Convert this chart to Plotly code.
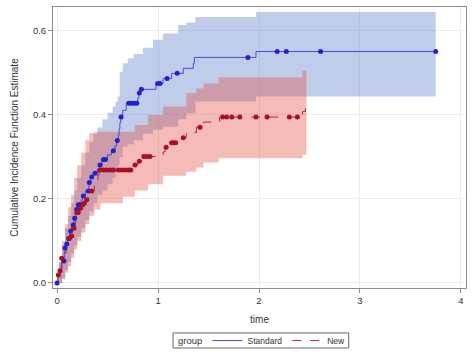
import plotly.graph_objects as go

# ---- Standard group: step curve ----
std_t = [0, 0.01, 0.03, 0.05, 0.072, 0.077, 0.088, 0.105, 0.125, 0.145, 0.168, 0.185, 0.19,
         0.205, 0.24, 0.25, 0.28, 0.315, 0.318, 0.335, 0.36, 0.40, 0.42, 0.445, 0.50, 0.54,
         0.575, 0.59, 0.605, 0.615, 0.622, 0.63, 0.65, 0.685, 0.80, 0.81, 0.825, 0.98, 1.05,
         1.135, 1.25, 1.35, 1.36, 1.97, 3.75]
std_v = [0, 0.017, 0.035, 0.052, 0.068, 0.083, 0.093, 0.106, 0.124, 0.138, 0.154, 0.165, 0.175,
         0.186, 0.197, 0.207, 0.219, 0.229, 0.239, 0.252, 0.261, 0.271, 0.281, 0.294, 0.305, 0.315,
         0.327, 0.339, 0.352, 0.367, 0.381, 0.395, 0.411, 0.428, 0.44, 0.452, 0.461, 0.475, 0.487,
         0.499, 0.511, 0.523, 0.537, 0.551, 0.551]
std_cens_t = [0.0, 0.069, 0.079, 0.096, 0.115, 0.135, 0.16, 0.175, 0.195, 0.211, 0.228, 0.26,
              0.31, 0.32, 0.343, 0.376, 0.426, 0.46, 0.48, 0.557, 0.597, 0.634, 0.71, 0.735,
              0.76, 0.79, 0.815, 0.835, 0.997, 1.02, 1.09, 1.19, 1.89, 2.18, 2.27, 2.61, 3.75]
std_cens_v = [0.0, 0.052, 0.083, 0.093, 0.106, 0.124, 0.138, 0.154, 0.175, 0.186, 0.186, 0.207,
              0.219, 0.239, 0.252, 0.261, 0.281, 0.294, 0.294, 0.315, 0.339, 0.395, 0.428, 0.428,
              0.428, 0.428, 0.452, 0.461, 0.475, 0.475, 0.487, 0.499, 0.537, 0.551, 0.551, 0.551, 0.551]
std_band_t = [0, 0.02, 0.05, 0.08, 0.11, 0.14, 0.17, 0.20, 0.24, 0.28, 0.32, 0.36, 0.40, 0.45,
              0.50, 0.55, 0.58, 0.60, 0.62, 0.65, 0.70, 0.76, 0.85, 0.95, 1.05, 1.20, 1.28, 1.37,
              1.97, 3.75]
std_lo = [0, 0.0, 0.01, 0.03, 0.05, 0.07, 0.09, 0.11, 0.13, 0.15, 0.17, 0.19, 0.21, 0.22,
          0.235, 0.25, 0.265, 0.28, 0.30, 0.325, 0.33, 0.34, 0.355, 0.365, 0.372, 0.39, 0.404,
          0.432, 0.444, 0.444]
std_hi = [0, 0.05, 0.09, 0.13, 0.16, 0.19, 0.22, 0.25, 0.28, 0.31, 0.335, 0.355, 0.37, 0.39,
          0.405, 0.42, 0.432, 0.444, 0.503, 0.523, 0.535, 0.545, 0.56, 0.579, 0.594, 0.614,
          0.62, 0.633, 0.645, 0.645]

# ---- New group ----
new_t = [0, 0.01, 0.025, 0.04, 0.045, 0.07, 0.09, 0.105, 0.115, 0.14, 0.155, 0.165, 0.175,
         0.185, 0.19, 0.225, 0.245, 0.265, 0.285, 0.31, 0.33, 0.37, 0.39, 0.405, 0.415, 0.75,
         0.80, 0.84, 1.05, 1.07, 1.11, 1.22, 1.28, 1.38, 1.45, 1.61, 2.43, 2.46, 2.47]
new_v = [0, 0.019, 0.029, 0.044, 0.059, 0.071, 0.083, 0.095, 0.106, 0.112, 0.12, 0.130, 0.142,
         0.155, 0.168, 0.178, 0.186, 0.19, 0.198, 0.208, 0.219, 0.232, 0.245, 0.257, 0.269, 0.281,
         0.29, 0.301, 0.312, 0.323, 0.334, 0.346, 0.358, 0.371, 0.383, 0.395, 0.408, 0.421, 0.421]
new_cens_t = [0.013, 0.03, 0.046, 0.122, 0.145, 0.168, 0.195, 0.21, 0.234, 0.254, 0.27, 0.294,
              0.343, 0.426, 0.458, 0.49, 0.525, 0.558, 0.607, 0.64, 0.673, 0.706, 0.73, 0.772,
              0.815, 0.86, 0.89, 0.92, 1.08, 1.135, 1.155, 1.175, 1.25, 1.416, 1.64, 1.68, 1.73,
              1.81, 1.97, 2.08, 2.30, 2.38]
new_cens_v = [0.019, 0.029, 0.059, 0.106, 0.112, 0.130, 0.168, 0.168, 0.178, 0.186, 0.19, 0.198,
              0.219, 0.269, 0.269, 0.269, 0.269, 0.269, 0.269, 0.269, 0.269, 0.269, 0.269, 0.281,
              0.29, 0.301, 0.301, 0.301, 0.323, 0.334, 0.334, 0.334, 0.346, 0.371, 0.395, 0.395,
              0.395, 0.395, 0.395, 0.395, 0.395, 0.395]
new_band_t = [0, 0.02, 0.05, 0.08, 0.11, 0.14, 0.17, 0.20, 0.24, 0.28, 0.32, 0.37, 0.43, 0.65,
              0.77, 0.90, 1.05, 1.28, 1.38, 1.45, 1.60, 2.43, 2.47]
new_lo = [0, 0.0, 0.01, 0.025, 0.04, 0.06, 0.08, 0.10, 0.12, 0.14, 0.16, 0.175, 0.19, 0.205,
          0.22, 0.235, 0.255, 0.265, 0.275, 0.287, 0.297, 0.305, 0.305]
new_hi = [0, 0.05, 0.10, 0.14, 0.18, 0.21, 0.25, 0.28, 0.31, 0.34, 0.357, 0.36, 0.36, 0.36,
          0.376, 0.40, 0.42, 0.452, 0.463, 0.475, 0.489, 0.505, 0.505]

x_ticks = [0, 1, 2, 3, 4]
y_ticks = [0.0, 0.2, 0.4, 0.6]
y_tick_labels = ["0.0", "0.2", "0.4", "0.6"]
legend_title = "group"

BLUE_FILL = "rgba(105,135,205,0.42)"
RED_FILL = "rgba(225,75,65,0.38)"
BLUE_LINE = "#4a4ad8"
RED_LINE = "#b02a36"
BLUE_MK = "#2222cc"
RED_MK = "#a8102a"

fig = go.Figure()

# bands
fig.add_trace(go.Scatter(x=std_band_t, y=std_lo, mode="lines", line=dict(width=0, shape="hv"),
                         showlegend=False, hoverinfo="skip"))
fig.add_trace(go.Scatter(x=std_band_t, y=std_hi, mode="lines", line=dict(width=0, shape="hv"),
                         fill="tonexty", fillcolor=BLUE_FILL, showlegend=False, hoverinfo="skip"))
fig.add_trace(go.Scatter(x=new_band_t, y=new_lo, mode="lines", line=dict(width=0, shape="hv"),
                         showlegend=False, hoverinfo="skip"))
fig.add_trace(go.Scatter(x=new_band_t, y=new_hi, mode="lines", line=dict(width=0, shape="hv"),
                         fill="tonexty", fillcolor=RED_FILL, showlegend=False, hoverinfo="skip"))

# step curves
fig.add_trace(go.Scatter(x=std_t, y=std_v, mode="lines", name="Standard",
                         line=dict(color=BLUE_LINE, width=1, shape="hv")))
fig.add_trace(go.Scatter(x=new_t, y=new_v, mode="lines", name="New",
                         line=dict(color=RED_LINE, width=1, shape="hv", dash="dash")))

# censored markers
fig.add_trace(go.Scatter(x=std_cens_t, y=std_cens_v, mode="markers", showlegend=False,
                         marker=dict(color=BLUE_MK, size=5)))
fig.add_trace(go.Scatter(x=new_cens_t, y=new_cens_v, mode="markers", showlegend=False,
                         marker=dict(color=RED_MK, size=5)))

axis_common = dict(showline=True, linecolor="#8c8c8c", linewidth=1, mirror=True,
                   ticks="outside", ticklen=4, tickcolor="#8c8c8c",
                   showgrid=True, gridcolor="#ebebeb", gridwidth=1, zeroline=False,
                   automargin=False, tickfont=dict(size=9.5, color="#333333"))

# legend frame + title
fig.add_shape(type="rect", xref="paper", yref="paper", x0=0.2906, x1=0.716, y0=-0.2135, y1=-0.160,
              line=dict(color="#666666", width=1), fillcolor="white", layer="below")
fig.add_annotation(text=legend_title, xref="paper", yref="paper", x=0.298, y=-0.187,
                   xanchor="left", yanchor="middle", showarrow=False,
                   font=dict(size=9.5, color="#333333"))

fig.update_layout(
    width=474, height=355,
    margin=dict(l=53, r=8, t=7, b=67, autoexpand=False),
    paper_bgcolor="white", plot_bgcolor="white",
    font=dict(family="Liberation Sans, Arial, sans-serif", color="#333333"),
    xaxis=dict(range=[-0.04, 4.05], tickvals=x_ticks, ticktext=[str(v) for v in x_ticks],
               title=dict(text="time", font=dict(size=10), standoff=10), **axis_common),
    yaxis=dict(range=[-0.012, 0.657], tickvals=y_ticks, ticktext=y_tick_labels,
               title=dict(text="Cumulative Incidence Function Estimate", font=dict(size=10), standoff=12),
               **axis_common),
    legend=dict(orientation="h", x=0.374, xanchor="left", y=-0.187, yanchor="middle",
                traceorder="normal", font=dict(size=8.5), borderwidth=0,
                itemwidth=30, tracegroupgap=0, bgcolor="rgba(0,0,0,0)"),
)

fig.write_html("out.html", post_script="document.body.style.margin='0';",
               config={"displayModeBar": False})
